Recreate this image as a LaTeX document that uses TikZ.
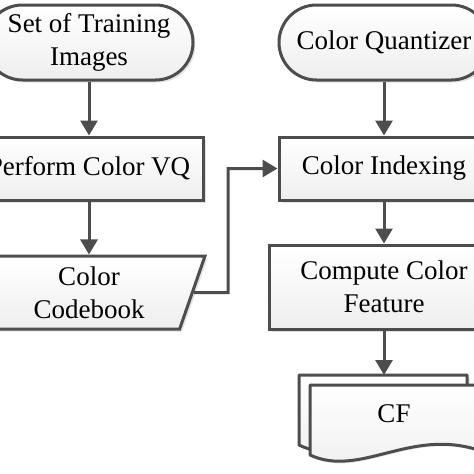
\documentclass[tikz,border=0pt]{standalone}
\usepackage{fontspec}
\setmainfont{Liberation Serif}
\usetikzlibrary{shapes.geometric,shapes.misc,arrows.meta,shadows}
\definecolor{edge}{HTML}{4D4D4D}
\tikzset{
  boxlook/.style={draw=edge, line width=3pt, top color=white, bottom color=gray!13,
    drop shadow={opacity=0.22, shadow xshift=2.5pt, shadow yshift=-2.5pt},
    font=\fontsize{27}{33}\selectfont, align=center, inner sep=0pt},
  termbox/.style={boxlook, rounded rectangle},
  procbox/.style={boxlook, rectangle},
  databox/.style={boxlook, trapezium, trapezium stretches body=true,
    trapezium left angle=64, trapezium right angle=116},
  arr/.style={draw=edge, line width=3pt, -{Triangle[length=15pt,width=17pt]}},
  doclook/.style={draw=edge, line width=3pt, top color=white, bottom color=gray!13, line join=round}
}
\begin{document}
\begin{tikzpicture}[x=1pt,y=-1pt]
\fill[white] (0,0) rectangle (474,474);
\useasboundingbox (0,0) rectangle (474,474);
\clip (0,0) rectangle (474,474);
% left column
\node[termbox, minimum width=208pt, minimum height=75pt] (sti) at (89,42.5) {Set of Training\\Images};
\node[procbox, minimum width=228pt, minimum height=63pt] (vq) at (89,168.5) {Perform Color VQ};
\node[databox, minimum width=232pt, minimum height=73pt] (cb) at (89,292.5) {Color\\Codebook};
% right column
\node[termbox, minimum width=210pt, minimum height=75pt] (cq) at (384,42.5) {Color Quantizer};
\node[procbox, minimum width=210pt, minimum height=63pt] (ci) at (384,168.5) {Color Indexing};
\node[procbox, minimum width=230pt, minimum height=84pt] (cf) at (384,287) {Compute Color\\Feature};
% multi-document
\fill[gray, opacity=0.22] (301.5,377.5) -- (469.5,377.5) -- (469.5,442) -- (301.5,447) -- cycle;
\path[doclook] (299,375) -- (467,375) -- (467,440) .. controls (400,420) and (350,470) .. (299,445) -- cycle;
\fill[gray, opacity=0.22] (312.5,387.5) -- (480.5,387.5) -- (480.5,452) .. controls (410,430) and (360,480) .. (312.5,457.5) -- cycle;
\path[doclook] (310,385) -- (478,385) -- (478,450) .. controls (410,428) and (360,478) .. (310,455) -- cycle;
\node[font=\fontsize{27}{33}\selectfont, inner sep=0pt] (cfd) at (394,414) {CF};
\coordinate (dtop) at (384,375);
\coordinate (j) at (228,292.5);
% connectors
\draw[arr] (sti) -- (vq);
\draw[arr] (vq) -- (cb);
\draw[arr] (cq) -- (ci);
\draw[arr] (ci) -- (cf);
\draw[arr] (cf) -- (dtop);
\draw[arr] (cb.east) -- (j) |- (ci.west);
\end{tikzpicture}
\end{document}
